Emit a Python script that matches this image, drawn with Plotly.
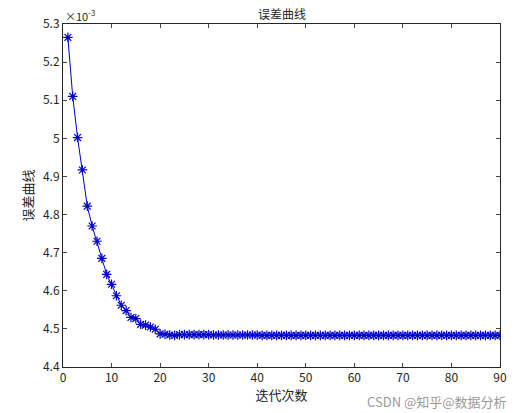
import plotly.graph_objects as go

iters = list(range(1, 91))
head = [5.265, 5.110, 5.002, 4.917, 4.822, 4.770, 4.730, 4.685, 4.643, 4.617,
        4.587, 4.562, 4.548, 4.530, 4.527, 4.512, 4.510, 4.505, 4.499, 4.487,
        4.486, 4.484, 4.483, 4.485, 4.485, 4.485, 4.485, 4.485, 4.485, 4.485]
tail = [4.484] * 10 + [4.483] * 50
err = [v * 1e-3 for v in head + tail]

font = "Noto Sans CJK SC"
fig = go.Figure(go.Scatter(
    x=iters, y=err, mode="lines+markers",
    line=dict(color="#0000cc", width=1),
    marker=dict(symbol="asterisk-open", size=8, color="#0000cc", line=dict(width=1.2, color="#0000cc")),
))
fig.update_layout(
    width=522, height=413, paper_bgcolor="white", plot_bgcolor="white",
    margin=dict(l=55, r=30, t=16, b=54, autoexpand=False), showlegend=False,
    font=dict(family=font, size=12, color="#262626"),
    annotations=[
        dict(text="误差曲线", x=0.5, y=1, xref="paper", yref="paper", xanchor="center", yanchor="bottom", yshift=0, showarrow=False, font=dict(size=12, color="#262626")),
        dict(text="×10<sup>-3</sup>", x=0, y=1, xref="paper", yref="paper", xanchor="left", yanchor="bottom", yshift=-2, showarrow=False, font=dict(size=11, color="#262626")),
        dict(text="CSDN @知乎@数据分析", x=1.02, y=-0.1, xref="paper", yref="paper", xanchor="right", yanchor="middle", showarrow=False, font=dict(size=13, color="#999999")),
    ],
)
fig.update_xaxes(range=[0, 90], tickvals=list(range(0, 91, 10)), showline=True, mirror="ticks", linecolor="#262626",
                 ticks="inside", ticklen=4, showgrid=False, zeroline=False, automargin=False,
                 title=dict(text="迭代次数", font=dict(size=13), standoff=4))
fig.update_yaxes(range=[4.4e-3, 5.3e-3], tickvals=[4.4e-3 + i * 1e-4 for i in range(10)],
                 ticktext=["4.4", "4.5", "4.6", "4.7", "4.8", "4.9", "5", "5.1", "5.2", "5.3"],
                 showline=True, mirror="ticks", linecolor="#262626", ticks="inside", ticklen=4,
                 showgrid=False, zeroline=False, automargin=False, title=dict(text="误差曲线", font=dict(size=13), standoff=6))
fig.write_html("out.html")
